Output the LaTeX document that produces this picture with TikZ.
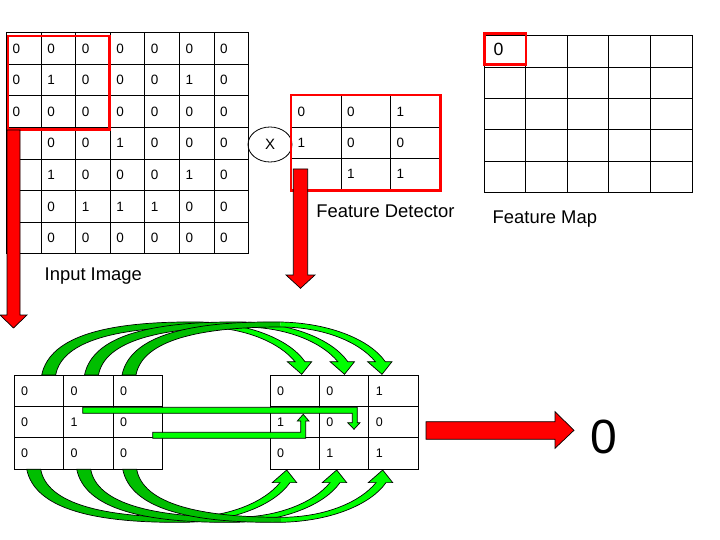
\documentclass[tikz,border=0pt]{standalone}
\usepackage{fontspec}
\setmainfont{Liberation Sans}
\usetikzlibrary{shapes.geometric}
\definecolor{brightgreen}{RGB}{0,255,0}
\definecolor{deepgreen}{RGB}{0,190,0}
\tikzset{
  cell/.style={draw, line width=1pt, inner xsep=6pt, inner ysep=0pt, align=left, font=\fontsize{13.5}{15}\selectfont},
  lowcell/.style={cell, inner xsep=7pt, font=\fontsize{12.5}{14}\selectfont},
  caption/.style={anchor=base west, inner sep=0pt, font=\fontsize{18.4}{20}\selectfont},
  redbox/.style={draw=red, line width=2.5pt},
  redarrow/.style={fill=red, draw=black, line width=0.7pt, line join=miter},
  greenarrow/.style={fill=brightgreen, draw=black, line width=0.7pt},
  swoop/.pic={
    \fill[deepgreen] (0,0) .. controls (8.3,-40) and (68.3,-54) .. (158.3,-53) -- (158.3,-48) .. controls (78.3,-48) and (20.3,-35) .. (14,0) -- cycle;
    \fill[brightgreen] (158.3,-53) .. controls (208.3,-52) and (248.3,-35) .. (263.3,-13.3) -- (270,-13.3) -- (260,-0.7) -- (245.6,-13.3) -- (253.3,-13.3) .. controls (238.3,-32) and (203.3,-48) .. (158.3,-48) -- cycle;
    \draw[line width=0.7pt] (0,0) .. controls (8.3,-40) and (68.3,-54) .. (158.3,-53) .. controls (208.3,-52) and (248.3,-35) .. (263.3,-13.3) -- (270,-13.3) -- (260,-0.7) -- (245.6,-13.3) -- (253.3,-13.3) .. controls (238.3,-32) and (203.3,-48) .. (158.3,-48) .. controls (78.3,-48) and (20.3,-35) .. (14,0) -- cycle;
  }
}
\begin{document}
\begin{tikzpicture}[x=1pt, y=-1pt]
  \useasboundingbox (0,0) rectangle (720,540);
  % input image
  \foreach \line [count=\r] in {{0,0,0,0,0,0,0},{0,1,0,0,0,1,0},{0,0,0,0,0,0,0},{{},0,0,1,0,0,0},{{},1,0,0,0,1,0},{{},0,1,1,1,0,0},{{},0,0,0,0,0,0}}
    \foreach \v [count=\c] in \line
      \node[cell, minimum height=31.61pt, text width=22.57pt] (img-\r-\c) at ({6.7+34.57*(\c-0.5)}, {32.7+31.61*(\r-0.5)}) {\v};
  \draw[redbox] (7.8,36) rectangle (109.7,129.7);
  \node[caption] (imglabel) at (44.5,280.7) {Input Image};
  % feature detector
  \node[draw, ellipse, line width=0.8pt, minimum width=44pt, minimum height=35pt, inner sep=0pt, font=\fontsize{15}{17}\selectfont] (times) at (270,144.5) {X};
  \foreach \line [count=\r] in {{0,0,1},{1,0,0},{{},1,1}}
    \foreach \v [count=\c] in \line
      \node[cell, minimum height=31.43pt, text width=37.43pt] (det-\r-\c) at ({291.7+49.43*(\c-0.5)}, {95.7+31.43*(\r-0.5)}) {\v};
  \draw[redbox] (det-1-1.north west) rectangle (det-3-3.south east);
  \node[caption] (detlabel) at (316.2,217.7) {Feature Detector};
  % feature map
  \foreach \r in {1,...,5}
    \foreach \c in {1,...,5}
      \node[cell, minimum height=31.4pt, text width=29.66pt] (map-\r-\c) at ({484+41.66*(\c-0.5)}, {35.7+31.4*(\r-0.5)}) {};
  \node[anchor=base west, inner sep=0pt, font=\fontsize{17.7}{19}\selectfont] (mapval) at (493.3,56) {0};
  \draw[redbox] (484.7,33.7) rectangle (526,64.7);
  \node[caption] (maplabel) at (492.5,224) {Feature Map};
  % red arrows down
  \draw[redarrow] (7,130) -- (20,130) -- (20,315) -- (27,315) -- (13.5,328) -- (0,315) -- (7,315) -- cycle;
  \draw[redarrow] (293.3,169) -- (307.7,169) -- (307.7,275) -- (315,275) -- (300.5,288.3) -- (286,275) -- (293.3,275) -- cycle;
  % window and kernel
  \foreach \line [count=\r] in {{0,0,0},{0,1,0},{0,0,0}}
    \foreach \v [count=\c] in \line
      \node[lowcell, minimum height=31.43pt, text width=35.57pt] (win-\r-\c) at ({14+49.57*(\c-0.5)}, {375+31.43*(\r-0.5)}) {\v};
  \foreach \line [count=\r] in {{0,0,1},{1,0,0},{0,1,1}}
    \foreach \v [count=\c] in \line
      \node[lowcell, minimum height=31.43pt, text width=35.43pt] (ker-\r-\c) at ({270+49.43*(\c-0.5)}, {375+31.43*(\r-0.5)}) {\v};
  % curved arrows
  \foreach \s in {41.7,84.5,122}
    \pic at (\s,375) {swoop};
  \foreach \s in {26.7,76.7,122.7}
    \pic[yscale=-1] at (\s,469.3) {swoop};
  % bent arrows
  \draw[greenarrow] (82.7,407.3) -- (357.3,407.3) -- (357.3,422.7) -- (360,422.7) -- (354,429.3) -- (347.7,422.7) -- (352.3,422.7) -- (352.3,413.3) -- (82.7,413.3) -- cycle;
  \draw[greenarrow] (152.7,432.3) -- (300.7,432.3) -- (300.7,421) -- (297.3,421) -- (303.2,414.3) -- (309,421) -- (305.7,421) -- (305.7,438.3) -- (152.7,438.3) -- cycle;
  % result
  \draw[redarrow] (426,421.7) -- (555,421.7) -- (555,411.7) -- (574,430.3) -- (555,448.3) -- (555,439.3) -- (426,439.3) -- cycle;
  \node[anchor=base west, inner sep=0pt, font=\fontsize{48}{50}\selectfont] (result) at (590.7,453) {0};
\end{tikzpicture}
\end{document}
